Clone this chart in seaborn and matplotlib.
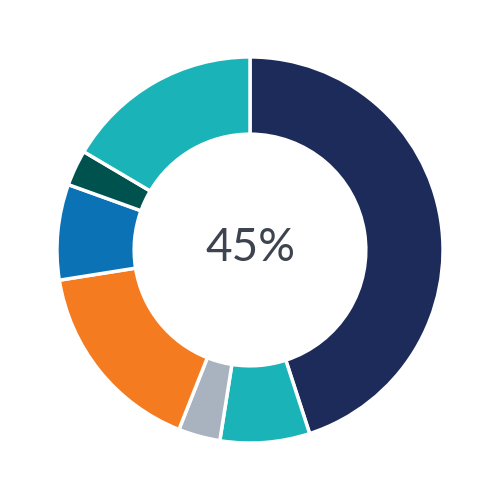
import matplotlib
matplotlib.use('Agg')
import matplotlib.pyplot as plt
import seaborn as sns

sns.set_theme(style='white')
plt.rcParams['font.family'] = ['Lato', 'DejaVu Sans']

# slices, clockwise from the top
labels = ['Navy', 'Teal A', 'Gray', 'Orange', 'Blue', 'Dark green', 'Teal B']
values = [45, 7.5, 3.5, 16.5, 8, 3, 16.5]
colors = ['#1c2b5a', '#1ab3b8', '#a9b2bf', '#f47b20', '#0b72b5', '#00524f', '#1ab3b8']
center_text = '45%'

fig = plt.figure(figsize=(5, 5), dpi=100)
ax = fig.add_axes([0, 0, 1, 1])
ax.pie(values, colors=colors, startangle=90, counterclock=False,
       radius=1, wedgeprops=dict(width=0.4, edgecolor='white', linewidth=2.5))
ax.text(0, 0.01, center_text, ha='center', va='center', fontsize=33, color='#3d4450')
ax.set_xlim(-1.295, 1.295)
ax.set_ylim(-1.295, 1.295)
ax.set_aspect('equal')
ax.axis('off')
fig.savefig('out.png', dpi=100, facecolor='white')
